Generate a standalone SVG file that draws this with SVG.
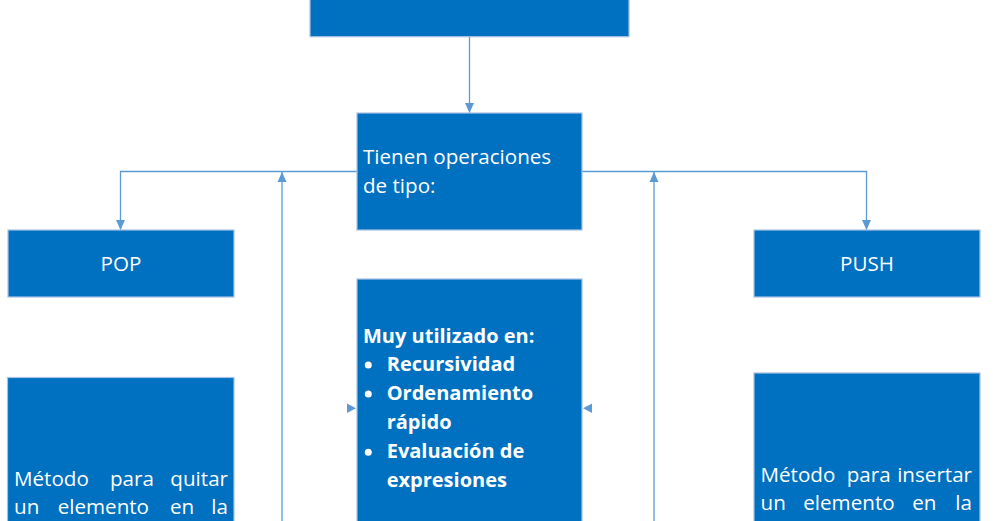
<svg xmlns="http://www.w3.org/2000/svg" width="993" height="521" viewBox="0 0 993 521">
<style>
.box{fill:#0070C0;stroke:#A9C0E4;stroke-width:1.2}
.t{font-family:"Open Sans","Noto Sans","Liberation Sans",sans-serif;font-size:20.6px;fill:#FFFFFF}
.b{font-family:"Open Sans","Noto Sans","Liberation Sans",sans-serif;font-size:20px;font-weight:bold;fill:#FFFFFF}
.c{fill:none;stroke:#5B9BD5;stroke-width:1.3}
.ah{fill:#5B9BD5}
</style>
<defs>
<marker id="arr" markerUnits="userSpaceOnUse" markerWidth="10" markerHeight="10" viewBox="0 0 10 10" refX="10" refY="5" orient="auto">
<path d="M0,0.5 L10,5 L0,9.5 z" fill="#5B9BD5"/>
</marker>
</defs>
<rect width="993" height="521" fill="#FFFFFF"/>
<g id="connectors">
<path class="c" d="M469.5,37 V113" marker-end="url(#arr)"/>
<path class="c" d="M357,171.5 H120.5 V230" marker-end="url(#arr)"/>
<path class="c" d="M582,171.5 H866.5 V230" marker-end="url(#arr)"/>
<path class="c" d="M282,521 V172" marker-end="url(#arr)"/>
<path class="c" d="M654,521 V172" marker-end="url(#arr)"/>
<polygon class="ah" points="347,403.5 356,408.3 347,413"/>
<polygon class="ah" points="592,403.5 583,408.3 592,413"/>
</g>
<g id="top">
<rect class="box" x="310" y="-5" width="319" height="41.7"/>
</g>
<g id="tipo">
<rect class="box" x="357" y="113" width="225" height="117"/>
<text class="t" x="363" y="164">Tienen operaciones</text>
<text class="t" x="363" y="192.5">de tipo:</text>
</g>
<g id="pop">
<rect class="box" x="8" y="230" width="226" height="67"/>
<text class="t" x="121" y="271" text-anchor="middle">POP</text>
</g>
<g id="push">
<rect class="box" x="754" y="230" width="226" height="67"/>
<text class="t" x="867" y="271" text-anchor="middle">PUSH</text>
</g>
<g id="usos">
<rect class="box" x="357" y="279" width="225" height="260"/>
<text class="b" x="363" y="342.7">Muy utilizado en:</text>
<circle cx="368.3" cy="365" r="3.5" fill="#FFFFFF"/>
<text class="b" x="386.7" y="371">Recursividad</text>
<circle cx="368.3" cy="394" r="3.5" fill="#FFFFFF"/>
<text class="b" x="386.7" y="400">Ordenamiento</text>
<text class="b" x="386.7" y="428.7">rápido</text>
<circle cx="368.3" cy="452.3" r="3.5" fill="#FFFFFF"/>
<text class="b" x="386.7" y="458.3">Evaluación de</text>
<text class="b" x="386.7" y="486.7">expresiones</text>
</g>
<g id="pop-desc">
<rect class="box" x="7.5" y="377.5" width="226.5" height="160"/>
<text class="t" y="486"><tspan x="14">Método</tspan><tspan x="110">para</tspan><tspan x="228" text-anchor="end">quitar</tspan></text>
<text class="t" y="514"><tspan x="14">un</tspan><tspan x="57.7">elemento</tspan><tspan x="170">en</tspan><tspan x="228" text-anchor="end">la</tspan></text>
</g>
<g id="push-desc">
<rect class="box" x="754" y="373" width="226" height="160"/>
<text class="t" y="481.7"><tspan x="760.5">Método</tspan><tspan x="846.7">para</tspan><tspan x="972" text-anchor="end">insertar</tspan></text>
<text class="t" y="510"><tspan x="760.5">un</tspan><tspan x="803.3">elemento</tspan><tspan x="912.3">en</tspan><tspan x="972" text-anchor="end">la</tspan></text>
</g>
</svg>
